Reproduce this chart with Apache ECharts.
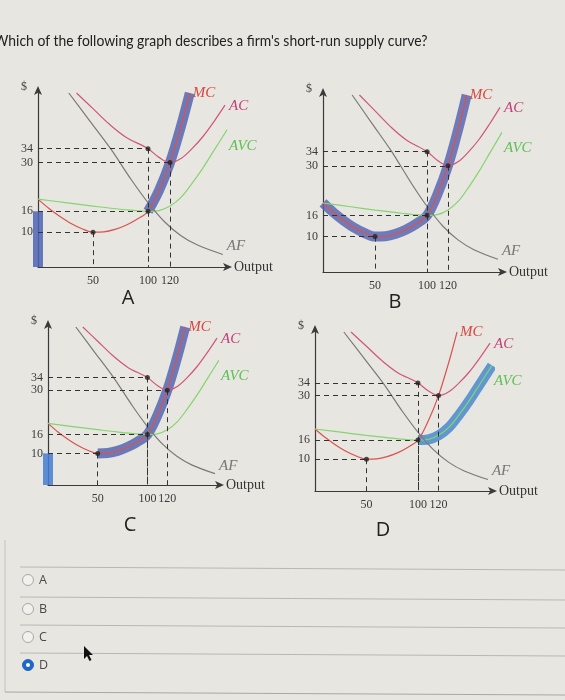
<!DOCTYPE html>
<html><head><meta charset="utf-8">
<script src="https://cdn.jsdelivr.net/npm/echarts@6/dist/echarts.min.js"></script>
<style>html,body{margin:0;padding:0;background:#e8e6e1}#c{width:565px;height:700px}</style>
</head><body><div id="c"></div><script>
// ---- content ----
const question = "Which of the following graph describes a firm's short-run supply curve?";
const panelLetters = ['A','B','C','D'];
const choices = ['A','B','C','D'];
const selectedChoice = 'D';
const yTicks = [10,16,30,34];
const xTicks = [50,100,120];
const xMax = 170, yMax = 50;
const mcCurve  = [[0,19.5],[10,16.8],[20,14.5],[30,12.5],[40,11],[50,10],[60,10.1],[70,10.8],[80,12],[90,13.7],[100,16],[110,22],[120,30],[130,40.5],[138,50]];
const acCurve  = [[35,50],[50,45.5],[65,41],[80,37.3],[100,34],[110,31.5],[120,30],[130,31.2],[140,34],[150,37.5],[160,41.8],[170,46.5]];
const avcCurve = [[0,19.5],[25,18.5],[50,17.5],[75,16.6],[100,16],[110,16.2],[120,17.5],[130,20],[140,24],[150,28.5],[160,33.5],[172,39.5]];
const afCurve  = [[28,50],[47,42],[66,34],[85,25],[100,18.5],[115,13],[130,9],[145,6.3],[168,3.6]];
const keyPoints = [[50,10],[100,16],[100,34],[120,30]];
// highlighted supply per panel
const supplyCurve = ['MC','MC','MC','AVC'];
const supplyFrom  = [100, 0, 50, 100];
const shutdownTop = [16, null, 10, null];

// ---- layout / style ----
const panels = [
  {left:38,  top:93,  width:187, height:174, hl:'rgba(80,96,176,0.82)', bar:'rgba(78,100,180,0.85)', letter:[128,298]},
  {left:323, top:95,  width:177, height:177, hl:'rgba(86,98,174,0.82)', letter:[395,302]},
  {left:48,  top:327, width:169, height:158, hl:'rgba(80,96,176,0.82)', bar:'rgba(70,125,210,0.85)', letter:[130,525]},
  {left:315, top:332, width:175, height:159, hl:'rgba(72,136,204,0.85)', letter:[383,530]}
];
const SERIF = '"Liberation Serif","DejaVu Serif",serif';
const curveDefs = [
  {name:'MC',  data:mcCurve,  color:'#d9534f', label:'#d9453f', off:[1,0]},
  {name:'AC',  data:acCurve,  color:'#d0557a', label:'#c2407a', off:[2,1]},
  {name:'AVC', data:avcCurve, color:'#86d46f', label:'#5cc052', off:[0,16]},
  {name:'AF',  data:afCurve,  color:'#7a7a7a', label:'#777777', off:[2,-8]}
];
const curveMap = {MC:mcCurve, AVC:avcCurve};

const grids=[], xAxes=[], yAxes=[], series=[], graphics=[];
panels.forEach((p,i)=>{
  grids.push({left:p.left, top:p.top, width:p.width, height:p.height, outerBoundsMode:'none'});
  const axisLine = {show:true, onZero:false, symbol:['none','arrow'], symbolSize:[6,9], symbolOffset:[0,7], lineStyle:{color:'#3a3a3a', width:1.2}};
  xAxes.push({type:'value', gridIndex:i, min:0, max:xMax, axisLine,
    axisTick:{show:false}, splitLine:{show:false},
    axisLabel:{customValues:xTicks, fontFamily:SERIF, fontSize:12, color:'#3a3a3a', margin:8},
    name:'Output', nameLocation:'end', nameGap:9,
    nameTextStyle:{fontFamily:SERIF, fontSize:14, color:'#333', padding:[12,0,0,0]}});
  yAxes.push({type:'value', gridIndex:i, min:0, max:yMax, axisLine,
    axisTick:{show:false}, splitLine:{show:false},
    axisLabel:{customValues:yTicks, fontFamily:SERIF, fontSize:12, color:'#3a3a3a', margin:5},
    name:'$', nameLocation:'end', nameGap:0,
    nameTextStyle:{fontFamily:SERIF, fontSize:12, color:'#444', align:'right', padding:[0,11,0,0]}});

  // highlighted supply curve (drawn below the thin curves)
  const src = curveMap[supplyCurve[i]].filter(d=>d[0]>=supplyFrom[i]);
  series.push({type:'line', xAxisIndex:i, yAxisIndex:i, data:src, smooth:0.35, symbol:'none', clip:false, z:1,
    lineStyle:{color:p.hl, width:10, cap:'butt'}, silent:true});
  if (shutdownTop[i]!=null){
    series.push({type:'line', xAxisIndex:i, yAxisIndex:i, data:[[0,0],[0,shutdownTop[i]]], symbol:'none', clip:false, z:1,
      lineStyle:{color:p.bar, width:10, cap:'butt'}, silent:true});
  }
  curveDefs.forEach(c=>{
    series.push({type:'line', name:c.name, xAxisIndex:i, yAxisIndex:i, data:c.data, smooth:0.35, symbol:'none', clip:false, z:3,
      lineStyle:{color:c.color, width:1.2},
      endLabel:{show:true, formatter:c.name, color:c.label, fontFamily:SERIF, fontStyle:'italic', fontSize:15, offset:c.off, distance:2}});
  });
  // key points with dashed guides
  const guides=[];
  keyPoints.forEach(([x,y])=>{
    guides.push([{coord:[0,y]},{coord:[x,y]}]);
    guides.push([{coord:[x,y]},{coord:[x,0]}]);
  });
  series.push({type:'scatter', xAxisIndex:i, yAxisIndex:i, data:keyPoints, symbolSize:5, z:5,
    itemStyle:{color:'#222'},
    markLine:{silent:true, symbol:'none', label:{show:false}, animation:false,
      lineStyle:{color:'#333', type:[5,4], width:1}, data:guides}});
  graphics.push({type:'text', x:p.letter[0], y:p.letter[1],
    style:{text:panelLetters[i], font:'20px "Open Sans",sans-serif', fill:'#222', textAlign:'center', textVerticalAlign:'middle'}});
});

// question text
graphics.push({type:'text', x:-6, y:41, scaleX:0.87, style:{text:question, font:'16px Lato,"Open Sans",sans-serif', fill:'#222', textVerticalAlign:'middle'}});
// answer list
const rowY = [580,609,637,665];
const sepY = [567,597,625,653];
sepY.forEach(y=>graphics.push({type:'line', shape:{x1:20,y1:y,x2:565,y2:y+3}, style:{stroke:'#b9b7b2', lineWidth:1}}));
graphics.push({type:'line', shape:{x1:5,y1:692,x2:565,y2:695}, style:{stroke:'#a9a7a2', lineWidth:1}});
graphics.push({type:'line', shape:{x1:5,y1:540,x2:5,y2:692}, style:{stroke:'#c4c2bd', lineWidth:1}});
choices.forEach((c,k)=>{
  const sel = c===selectedChoice;
  graphics.push({type:'circle', shape:{cx:28,cy:rowY[k],r:5.5},
    style:{fill:sel?'#1f66c9':'#f2f1ee', stroke:sel?'#1f66c9':'#a8a8a8', lineWidth:1}});
  if (sel) graphics.push({type:'circle', shape:{cx:28,cy:rowY[k],r:2}, style:{fill:'#ffffff'}});
  graphics.push({type:'text', x:39, y:rowY[k], style:{text:c, font:'12.5px "Open Sans",sans-serif', fill:'#4a4a4a', textVerticalAlign:'middle'}});
});
// mouse pointer
graphics.push({type:'polygon', shape:{points:[[84,646],[84,659],[87,656],[89.5,661],[91.5,660],[89,655],[93,655]]}, style:{fill:'#111'}});

const chart = echarts.init(document.getElementById('c'), null, {renderer:'canvas'});
chart.setOption({
  animation:false,
  backgroundColor:'#e8e6e1',
  grid:grids, xAxis:xAxes, yAxis:yAxes, series, graphic:graphics
});
</script></body></html>
